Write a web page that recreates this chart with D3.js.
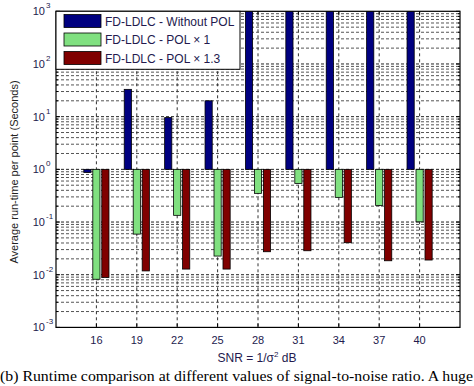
<!DOCTYPE html>
<html><head><meta charset="utf-8">
<script src="https://cdn.jsdelivr.net/npm/d3@7"></script>
<style>body{margin:0;background:#fff}svg{display:block}</style>
</head><body>
<script>
const categories = [16,19,22,25,28,31,34,37,40];
const withoutPOL = [0.87, 33, 9.6, 20, 5000, 5000, 5000, 5000, 5000];
const pol1 = [0.0082, 0.059, 0.134, 0.0226, 0.35, 0.54, 0.294, 0.207, 0.101];
const pol13 = [0.0089, 0.0118, 0.0128, 0.0128, 0.0273, 0.0285, 0.0405, 0.0184, 0.019];
const seriesNames = ["FD-LDLC - Without POL","FD-LDLC - POL \u00d7 1","FD-LDLC - POL \u00d7 1.3"];
const colors = ["#000080","#80e080","#800000"];
const yExponents = [-3,-2,-1,0,1,2,3];

const W=474,H=386;
const L=56,R=460,T=11.3,B=327.4;
const svg=d3.select("body").append("svg").attr("width",W).attr("height",H);
const x=d3.scaleLinear().domain([13,43]).range([L,R]);
const y=d3.scaleLog().domain([1e-3,1e3]).range([B,T]);

const grid=svg.append("g");
const minorVals=[];
for(let e=-3;e<3;e++){for(let k=2;k<=9;k++){minorVals.push(k*Math.pow(10,e));}}
grid.selectAll(".mn").data(minorVals).enter().append("line")
  .attr("x1",L).attr("x2",R).attr("y1",d=>y(d)).attr("y2",d=>y(d))
  .attr("stroke","#555").attr("stroke-width",1).attr("stroke-dasharray","3,2");
grid.selectAll(".mj").data(yExponents.slice(1,-1)).enter().append("line")
  .attr("x1",L).attr("x2",R).attr("y1",d=>y(Math.pow(10,d))).attr("y2",d=>y(Math.pow(10,d)))
  .attr("stroke","#222").attr("stroke-width",1).attr("stroke-dasharray","3,2");
grid.selectAll(".vx").data(categories).enter().append("line")
  .attr("x1",d=>x(d)).attr("x2",d=>x(d)).attr("y1",T).attr("y2",B)
  .attr("stroke","#333").attr("stroke-width",1).attr("stroke-dasharray","3,3");

svg.append("clipPath").attr("id","clip").append("rect").attr("x",L).attr("y",T).attr("width",R-L).attr("height",B-T);
const series=[withoutPOL,pol1,pol13];
const bw=0.8*2/3;
const bars=svg.append("g").attr("clip-path","url(#clip)");
series.forEach((vals,i)=>{
  const off=(i-1)*2/3;
  bars.selectAll(".b"+i).data(categories).enter().append("rect")
    .attr("x",d=>x(d+off-bw/2))
    .attr("width",d=>x(d+off+bw/2)-x(d+off-bw/2))
    .attr("y",(d,j)=>Math.min(y(1),y(vals[j])))
    .attr("height",(d,j)=>Math.abs(y(vals[j])-y(1)))
    .attr("fill",colors[i]).attr("stroke","#000").attr("stroke-width",0.8);
});

svg.append("rect").attr("x",L).attr("y",T).attr("width",R-L).attr("height",B-T)
  .attr("fill","none").attr("stroke","#000").attr("stroke-width",1.2);
const tk=svg.append("g").attr("stroke","#000").attr("stroke-width",1);
yExponents.forEach(e=>{const yy=y(Math.pow(10,e));
  tk.append("line").attr("x1",L).attr("x2",L+4).attr("y1",yy).attr("y2",yy);
  tk.append("line").attr("x1",R).attr("x2",R-4).attr("y1",yy).attr("y2",yy);});
minorVals.forEach(v=>{const yy=y(v);
  tk.append("line").attr("x1",L).attr("x2",L+2).attr("y1",yy).attr("y2",yy);
  tk.append("line").attr("x1",R).attr("x2",R-2).attr("y1",yy).attr("y2",yy);});
categories.forEach(c=>{
  tk.append("line").attr("x1",x(c)).attr("x2",x(c)).attr("y1",B).attr("y2",B-4);
  tk.append("line").attr("x1",x(c)).attr("x2",x(c)).attr("y1",T).attr("y2",T+4);});

const tcol="#231a4e";
const font="Liberation Sans, Arial, sans-serif";
yExponents.forEach(e=>{
  svg.append("text").attr("x",45).attr("y",y(Math.pow(10,e))+4).attr("text-anchor","end")
    .attr("font-family",font).attr("font-size",11).attr("fill",tcol).text("10");
  svg.append("text").attr("x",46).attr("y",y(Math.pow(10,e))-3).attr("font-family",font)
    .attr("font-size",8).attr("fill",tcol).text(String(e));
});
svg.selectAll(".xl").data(categories).enter().append("text")
  .attr("x",d=>x(d)).attr("y",344).attr("text-anchor","middle")
  .attr("font-family",font).attr("font-size",11).attr("fill",tcol).text(d=>d);
const xl=svg.append("text").attr("x",257).attr("y",362).attr("text-anchor","middle")
  .attr("font-family",font).attr("font-size",12).attr("fill",tcol);
xl.append("tspan").text("SNR = 1/\u03c3");
xl.append("tspan").attr("dy",-5).attr("font-size",8).text("2");
xl.append("tspan").attr("dy",5).text(" dB");
svg.append("text").attr("transform","translate(18,172) rotate(-90)").attr("text-anchor","middle")
  .attr("font-family",font).attr("font-size",11).attr("fill","#222").text("Average run-time per point (Seconds)");

const lg=svg.append("g");
lg.append("rect").attr("x",L).attr("y",T).attr("width",184).attr("height",58)
  .attr("fill","#fff").attr("stroke","#000").attr("stroke-width",1);
seriesNames.forEach((n,i)=>{
  const cy=21+i*18.5;
  lg.append("rect").attr("x",64).attr("y",cy-6.5).attr("width",37).attr("height",13)
    .attr("fill",colors[i]).attr("stroke","#000").attr("stroke-width",0.8);
  lg.append("text").attr("x",105).attr("y",cy+4.5).attr("font-family",font).attr("font-size",12)
    .attr("fill",tcol).text(n);
});

svg.append("text").attr("x",0).attr("y",381).attr("font-family","Liberation Serif, Times New Roman, serif")
  .attr("font-size",15).attr("fill","#000").attr("textLength",473).attr("lengthAdjust","spacingAndGlyphs")
  .text("(b) Runtime comparison at different values of signal-to-noise ratio. A huge");
</script>
</body></html>
